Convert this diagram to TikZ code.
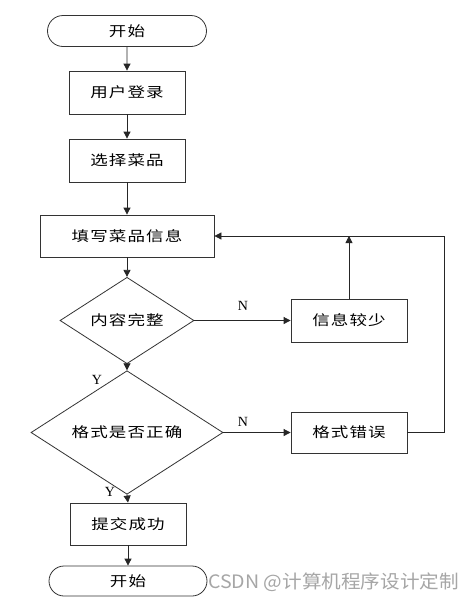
\documentclass[tikz,border=0pt]{standalone}
\usepackage{fontspec}
\newfontfamily\cjk[FakeStretch=1.25,LetterSpace=8]{Noto Sans CJK SC}
\newfontfamily\cjkw[FakeStretch=1.06]{Noto Sans CJK SC}
\newfontfamily\lbl{Liberation Serif}
\usetikzlibrary{shapes.misc,shapes.geometric,arrows.meta}
\begin{document}
\begin{tikzpicture}[x=1pt,y=-1pt,
  every node/.style={font=\cjk\fontsize{14pt}{16pt}\selectfont, text=black},
  proc/.style={draw=black!80, line width=0.8pt, rectangle, inner sep=0pt, minimum width=116pt, minimum height=43pt},
  term/.style={draw=black!80, line width=0.8pt, rounded rectangle, inner sep=0pt, minimum width=159pt, minimum height=31pt},
  dec/.style={draw=black!80, line width=0.8pt, diamond, inner sep=0pt},
  flow/.style={draw=black!85, line width=0.8pt, -{Triangle[length=7pt,width=7pt]}},
  lab/.style={font=\lbl\fontsize{14pt}{16pt}\selectfont}
]
\useasboundingbox (0,0) rectangle (473,603);
\fill[white] (0,0) rectangle (473,603);

\node[term] (t1) at (127,31) {开始};
\node[proc] (b1) at (127,92.5) {用户登录};
\node[proc] (b2) at (127,160.5) {选择菜品};
\node[proc, minimum width=174pt, minimum height=42pt] (b3) at (127,236) {填写菜品信息};
\node[dec, minimum width=134pt, minimum height=59pt] (d1) at (127,320.5) {内容完整};
\node[proc] (b4) at (349,320.5) {信息较少};
\node[dec, minimum width=192pt, minimum height=83pt] (d2) at (127,432.5) {格式是否正确};
\node[proc, minimum height=41pt] (b5) at (349,432.5) {格式错误};
\node[proc, minimum height=42pt] (b6) at (128,524) {提交成功};
\node[term, minimum width=158pt, minimum height=30pt] (t2) at (128,581) {开始};

\coordinate (c1) at (349,236);
\coordinate (c2) at (444,432.5);
\coordinate (c3) at (444,236);

\draw[flow] (t1) -- (b1);
\draw[flow] (b1) -- (b2);
\draw[flow] (b2) -- (b3);
\draw[flow] (b3) -- (d1);
\draw[flow] (d1) -- (b4);
\draw[flow] (b4) -- (c1);
\draw[flow] (d1) -- (d2);
\draw[flow] (d2) -- (b5);
\draw[flow] (b5.east) -- (c2) -- (c3) -- (b3.east);
\draw[flow] (d2.south) -- (b6.north);
\draw[flow] (b6) -- (t2);

\node[lab] (n1) at (243,306) {N};
\node[lab] (y1) at (97,380) {Y};
\node[lab] (n2) at (243,422) {N};
\node[lab] (y2) at (110,492) {Y};

\node[font=\cjkw\fontsize{18.5pt}{20pt}\selectfont, text=black!35, anchor=west, inner sep=0pt] (wm) at (208,582) {CSDN @计算机程序设计定制};
\end{tikzpicture}
\end{document}
